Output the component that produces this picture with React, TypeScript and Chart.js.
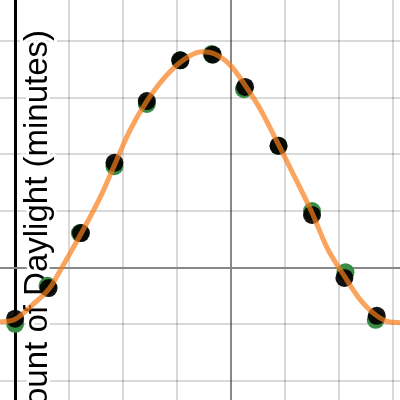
import React, { useRef, useEffect } from 'react';
import Chart from 'chart.js/auto';

// days are counted from the darker vertical axis, minutes from the darker horizontal axis
const predictedDays = [-200, -169, -139, -108, -78, -47, -17, 13, 44, 75, 105, 135];
const predictedMinutes = [-90, -36, 61, 185, 294, 366, 376, 319, 215, 93, -18, -85];

const observedDays = [-200, -170, -140, -108, -78, -47, -18, 12, 44, 75, 106, 134];
const observedMinutes = [-99, -32, 61, 179, 289, 366, 377, 315, 215, 100, -8, -92];

const curveDays = [-214, -200, -183, -168, -158, -139, -121, -108, -94, -78, -56, -38, -27, -15, 0, 13, 27, 44, 59, 75, 89, 105, 119, 135, 147, 157];
const curveMinutes = [-96, -91, -64, -36, -4, 60, 125, 181, 241, 294, 347, 374, 381, 377, 356, 322, 280, 217, 160, 97, 35, -15, -55, -85, -96, -97];

const xGridDays = [-200, -150, -100, -50, 0, 50, 100, 150];
const yGridMinutes = [-200, -100, 0, 100, 200, 300, 400];

const yTitle = 'Amount of Daylight (minutes)';
const borderDay = -200;

const toPoints = (xs: number[], ys: number[]) => xs.map((x, i) => ({ x, y: ys[i] }));

const sideTitle = {
  id: 'sideTitle',
  beforeDatasetsDraw(chart: any) {
    const { ctx } = chart;
    const left = chart.scales.x.getPixelForValue(borderDay);
    ctx.save();
    ctx.translate(left + 32, 30);
    ctx.rotate(-Math.PI / 2);
    ctx.font = '33px "Liberation Sans", Arial, sans-serif';
    ctx.textAlign = 'right';
    ctx.textBaseline = 'alphabetic';
    ctx.lineJoin = 'round';
    ctx.strokeStyle = '#fff';
    ctx.lineWidth = 6;
    ctx.strokeText(yTitle, 0, 0);
    ctx.fillStyle = '#000';
    ctx.fillText(yTitle, 0, 0);
    ctx.restore();
  },
};

const DaylightChart: React.FC = () => {
  const canvasRef = useRef<HTMLCanvasElement>(null);

  useEffect(() => {
    if (!canvasRef.current) return;
    const chart = new Chart(canvasRef.current, {
      type: 'scatter',
      data: {
        datasets: [
          {
            label: 'Fit',
            data: toPoints(curveDays, curveMinutes),
            showLine: true,
            pointRadius: 0,
            borderColor: 'rgba(250,126,25,0.7)',
            borderWidth: 5,
            cubicInterpolationMode: 'monotone',
            order: 0,
          },
          {
            label: 'Predicted',
            data: toPoints(predictedDays, predictedMinutes),
            pointRadius: 9,
            borderWidth: 0,
            backgroundColor: 'rgba(0,0,0,0.92)',
            order: 1,
          },
          {
            label: 'Observed',
            data: toPoints(observedDays, observedMinutes),
            pointRadius: 9,
            borderWidth: 0,
            backgroundColor: '#388c46',
            order: 2,
          },
        ],
      },
      options: {
        animation: false,
        responsive: false,
        layout: { padding: 0, autoPadding: false },
        plugins: {
          legend: { display: false },
          tooltip: { enabled: false },
        },
        scales: {
          x: {
            type: 'linear',
            min: -214,
            max: 156.5,
            border: { display: false },
            ticks: { display: false },
            afterBuildTicks: (scale: any) => {
              scale.ticks = xGridDays.map((value) => ({ value }));
            },
            grid: {
              drawTicks: false,
              color: (c: any) => (c.tick.value === borderDay ? '#000' : c.tick.value === 0 ? '#888' : 'rgba(0,0,0,0.15)'),
              lineWidth: (c: any) => (c.tick.value === borderDay ? 3 : 2),
            },
          },
          y: {
            type: 'linear',
            min: -233.5,
            max: 472.4,
            border: { display: false },
            ticks: { display: false },
            afterBuildTicks: (scale: any) => {
              scale.ticks = yGridMinutes.map((value) => ({ value }));
            },
            grid: {
              drawTicks: false,
              color: (c: any) => (c.tick.value === 0 ? '#888' : 'rgba(0,0,0,0.15)'),
              lineWidth: 2,
            },
          },
        },
      },
      plugins: [sideTitle],
    });
    return () => chart.destroy();
  }, []);

  return (
    <div style={{ position: 'fixed', left: 0, top: 0, width: 400, height: 400, background: '#fff' }}>
      <canvas ref={canvasRef} width={400} height={400} />
    </div>
  );
};

export default function App() {
  return <DaylightChart />;
}
